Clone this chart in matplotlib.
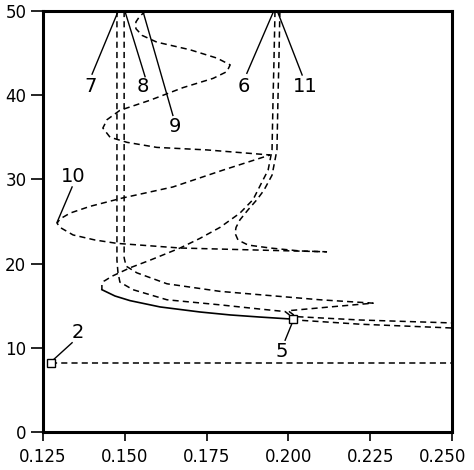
import matplotlib.pyplot as plt
import matplotlib.transforms as mtransforms

# 곡선 데이터
# 7번 곡선
c7_x = [0.1476, 0.1476, 0.1476, 0.1476, 0.1479, 0.1485, 0.1525, 0.1629, 0.1791, 0.1913, 0.1990, 0.2023, 0.2219, 0.2500]
c7_y = [50.0, 39.4, 27.6, 20.4, 19.0, 17.8, 16.9, 15.7, 15.1, 14.6, 14.3, 13.3, 12.8, 12.35]

# 8번 곡선
c8_x = [0.1498, 0.1498, 0.1498, 0.1498, 0.1504, 0.1537, 0.1629, 0.1791, 0.1913, 0.2097, 0.2259,
        0.2127, 0.1999, 0.2023, 0.2219, 0.2500]
c8_y = [50.0, 39.4, 27.6, 20.7, 19.7, 18.9, 17.6, 16.7, 16.3, 15.7, 15.3,
        14.85, 14.4, 13.7, 13.3, 12.95]

# 6번 곡선 (점선 부분)
c6_x = [0.1959, 0.1956, 0.1953, 0.1950, 0.1938, 0.1922, 0.1892, 0.1852, 0.1791, 0.1730, 0.1669,
        0.1577, 0.1516, 0.1461, 0.1436, 0.1430, 0.1430]
c6_y = [50.0, 44.2, 39.4, 33.5, 31.1, 29.9, 27.6, 26.0, 24.3, 23.0, 21.85,
        20.4, 19.5, 18.5, 17.9, 17.5, 16.9]

# 6번 곡선 끝의 실선 부분 (5번 점까지)
c6s_x = [0.1430, 0.1470, 0.1516, 0.1608, 0.1730, 0.1822, 0.1913, 0.2014]
c6s_y = [16.9, 16.15, 15.6, 14.85, 14.25, 13.9, 13.65, 13.4]

# 11번 곡선
c11_x = [0.1974, 0.1971, 0.1968, 0.1965, 0.1950, 0.1925, 0.1904, 0.1877, 0.1852, 0.1840, 0.1837,
         0.1846, 0.1877, 0.1944, 0.2035, 0.2118]
c11_y = [50.0, 44.2, 39.4, 33.5, 30.5, 28.7, 27.6, 26.4, 25.2, 24.3, 23.6,
         22.8, 22.2, 21.85, 21.5, 21.4]

# 9번 / 10번 곡선 (물결 모양)
c9_x = [0.1565, 0.1546, 0.1534, 0.1534, 0.1553, 0.1598, 0.1699, 0.1782, 0.1822, 0.1812, 0.1770,
        0.1678, 0.1577, 0.1485, 0.1446, 0.1433, 0.1455, 0.1507, 0.1598, 0.1751, 0.1944,
        0.1800, 0.1647, 0.1494, 0.1394, 0.1333, 0.1302, 0.1293, 0.1302, 0.1342, 0.1409,
        0.1476, 0.1669, 0.1913, 0.2118]
c9_y = [50.0, 49.4, 48.7, 47.9, 47.1, 46.3, 45.4, 44.4, 43.6, 42.8, 42.0,
        40.9, 39.4, 38.2, 37.1, 36.1, 35.0, 34.4, 33.8, 33.5, 32.9,
        31.1, 29.1, 27.8, 26.8, 26.0, 25.3, 24.8, 24.3, 23.4, 22.8,
        22.4, 21.85, 21.6, 21.4]

# 2번, 5번 점
p2 = (0.1274, 8.2)
p5 = (0.2014, 13.4)

# 번호 라벨: (글자, 글자 위치, 지시선 시작, 지시선 끝)
labels = [
    ('7', (0.1394, 41.0), (0.1400, 42.5), (0.1479, 49.9)),
    ('8', (0.1556, 41.0), (0.1562, 42.2), (0.1501, 49.9)),
    ('9', (0.1653, 36.3), (0.1647, 37.6), (0.1556, 49.9)),
    ('6', (0.1864, 41.0), (0.1873, 42.6), (0.1953, 49.8)),
    ('11', (0.2051, 41.0), (0.2042, 42.4), (0.1968, 49.8)),
    ('10', (0.1342, 30.3), (0.1339, 29.1), (0.1293, 24.9)),
    ('2', (0.1357, 11.8), (0.1281, 8.55), (0.1339, 10.6)),
    ('5', (0.1980, 9.5), (0.1990, 10.9), (0.2011, 12.9)),
]

x_ticks = [0.125, 0.150, 0.175, 0.200, 0.225, 0.250]
y_ticks = [0, 10, 20, 30, 40, 50]

fig = plt.figure(figsize=(4.74, 4.70), dpi=100)
ax = fig.add_axes([0.0907, 0.0809, 0.8629, 0.8957])

dash = (0, (4, 2.7))
lw = 1.1

ax.plot(c7_x, c7_y, color='black', lw=lw, linestyle=dash)
ax.plot(c8_x, c8_y, color='black', lw=lw, linestyle=dash)
ax.plot(c6_x, c6_y, color='black', lw=lw, linestyle=dash)
ax.plot(c6s_x, c6s_y, color='black', lw=1.2, linestyle='-')
ax.plot(c11_x, c11_y, color='black', lw=lw, linestyle=dash)
ax.plot(c9_x, c9_y, color='black', lw=lw, linestyle=dash)

# 2번 점에서 오른쪽으로 수평 점선
ax.plot([p2[0], 0.25], [p2[1], p2[1]], color='black', lw=lw, linestyle=dash)

# 사각형 마커
ax.plot([p2[0], p5[0]], [p2[1], p5[1]], linestyle='none', marker='s', markersize=6,
        markerfacecolor='white', markeredgecolor='black', markeredgewidth=1.0, zorder=5)

# 번호와 지시선
for txt, pos, a, b in labels:
    ax.plot([a[0], b[0]], [a[1], b[1]], color='black', lw=1.0)
    ax.text(pos[0], pos[1], txt, fontsize=14, ha='center', va='center')

ax.set_xlim(0.125, 0.250)
ax.set_ylim(0, 50)
ax.set_xticks(x_ticks)
ax.set_xticklabels(['%.3f' % v for v in x_ticks])
ax.set_yticks(y_ticks)

for s in ax.spines.values():
    s.set_linewidth(2.2)

ax.tick_params(axis='x', direction='out', length=6.5, width=1.2, labelsize=12, pad=5)
ax.tick_params(axis='y', direction='out', length=8.5, width=1.2, labelsize=12, pad=3.5)

# 마지막 x 눈금 글자가 잘리지 않게 왼쪽으로 조금 이동
last = ax.get_xticklabels()[-1]
last.set_transform(last.get_transform() + mtransforms.ScaledTranslation(-7 / 72, 0, fig.dpi_scale_trans))

fig.savefig('out.png', dpi=100)
